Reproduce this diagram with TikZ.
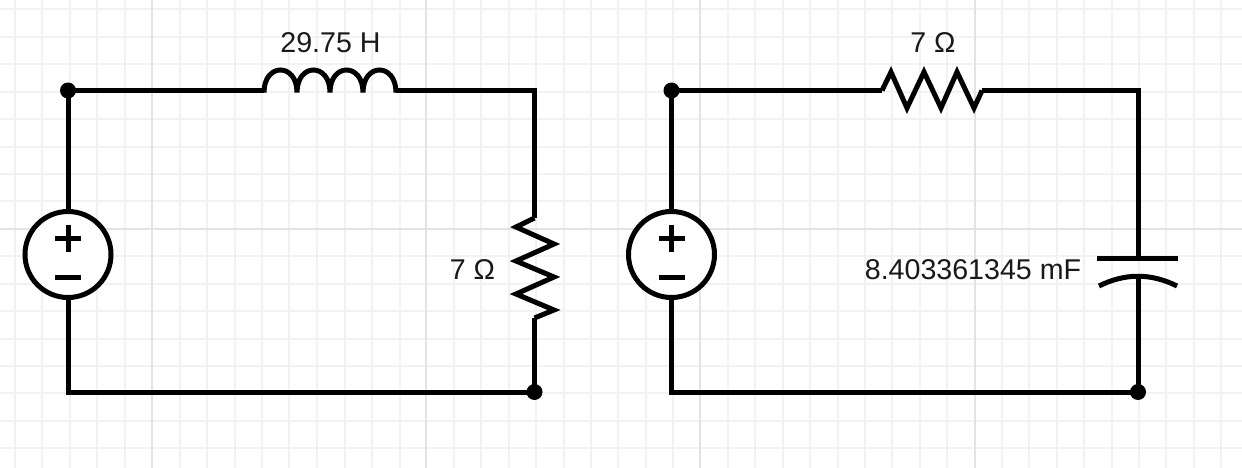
\documentclass[tikz,border=0pt]{standalone}
\usepackage{fontspec}
\setmainfont{Liberation Sans}
\tikzset{
  gridminor/.style={draw=black!5,line width=1.8pt},
  gridmajor/.style={draw=black!11,line width=1.8pt},
  wire/.style={draw=black,line width=5pt,line cap=butt,line join=miter},
  junction/.style={circle,fill=black,inner sep=0pt,minimum size=16pt},
  srcbody/.style={circle,draw=black,line width=5pt,fill=white,inner sep=0pt,minimum size=86pt},
  lbl/.style={inner sep=0pt,text=black!90,font=\fontsize{28.6pt}{32pt}\selectfont}
}
\begin{document}
\begin{tikzpicture}[x=1pt,y=-1pt]
\useasboundingbox (0,0) rectangle (1242,468);
\fill[white] (0,0) rectangle (1242,468);
% grid
\foreach \gx in {15,42,70,97,125,180,207,235,262,289,317,345,372,400,454,481,509,536,564,591,618,646,673,728,755,783,810,838,865,892,920,947,1002,1029,1057,1084,1112,1139,1166,1194,1221}
  \draw[gridminor] (\gx,0) -- (\gx,468);
\foreach \gy in {9,37,64,92,119,147,174,201,256,284,311,339,366,393,421,448}
  \draw[gridminor] (0,\gy) -- (1242,\gy);
\foreach \gx in {152,426,700,975}
  \draw[gridmajor] (\gx,0) -- (\gx,468);
\draw[gridmajor] (0,229) -- (1242,229);
% left circuit: named points
\node[junction] (lTL) at (68,90.5) {};
\node[junction] (lBR) at (534.5,392) {};
\node[srcbody] (lS) at (68,254.5) {};
\coordinate (lLa) at (264,90.5);
\coordinate (lLb) at (396,90.5);
\coordinate (lTR) at (534.5,90.5);
\coordinate (lRa) at (534.5,218);
\coordinate (lRb) at (534.5,318);
\coordinate (lBL) at (68,392);
% right circuit: named points
\node[junction] (rTL) at (671.5,90.5) {};
\node[junction] (rBR) at (1138,392) {};
\node[srcbody] (rS) at (671.5,254.5) {};
\coordinate (rRa) at (882,90.5);
\coordinate (rRb) at (982,90.5);
\coordinate (rTR) at (1138,90.5);
\coordinate (rCa) at (1138,258);
\coordinate (rCb) at (1138,277);
\coordinate (rBL) at (671.5,392);
% left wires
\draw[wire] (lS.north) -- (lTL.center) -- (lLa);
\draw[wire] (lLb) -- (lTR) -- (lRa);
\draw[wire] (lRb) -- (lBR.center) -- (lBL) -- (lS.south);
% inductor
\draw[wire] (lLa) -- ++(0,2)
  .. controls +(0,-30) and +(0,-30) .. ++(33,0)
  .. controls +(0,-30) and +(0,-30) .. ++(33,0)
  .. controls +(0,-30) and +(0,-30) .. ++(33,0)
  .. controls +(0,-30) and +(0,-30) .. ++(33,0) -- (lLb);
% vertical resistor
\draw[wire] (lRa) -- (516,227) -- (554,244) -- (516,261) -- (554,277) -- (516,294) -- (554,310) -- (lRb);
% right wires
\draw[wire] (rS.north) -- (rTL.center) -- (rRa);
\draw[wire] (rRb) -- (rTR) -- (rCa);
\draw[wire] (rCb) -- (rBR.center) -- (rBL) -- (rS.south);
% horizontal resistor
\draw[wire] (rRa) -- (891,72) -- (907,108) -- (924,72) -- (941,108) -- (957,72) -- (974,108) -- (rRb);
% capacitor
\draw[wire] (1097,258) -- (1178,258);
\draw[wire] (1099,286) .. controls (1125,273) and (1151,273) .. (1177,286);
% source signs
\foreach \s in {lS,rS}{
  \draw[wire] ([shift={(-13,-16.5)}]\s.center) -- ([shift={(13,-16.5)}]\s.center);
  \draw[wire] ([shift={(0,-30)}]\s.center) -- ([shift={(0,-3)}]\s.center);
  \draw[wire] ([shift={(-13,22.5)}]\s.center) -- ([shift={(13,22.5)}]\s.center);
}
% labels
\node[lbl] (t1) at (330.5,42.5) {29.75 H};
\node[lbl] (t2) at (472.5,269.5) {7 Ω};
\node[lbl] (t3) at (933,42.5) {7 Ω};
\node[lbl] (t4) at (973,269.5) {8.403361345 mF};
\end{tikzpicture}
\end{document}
